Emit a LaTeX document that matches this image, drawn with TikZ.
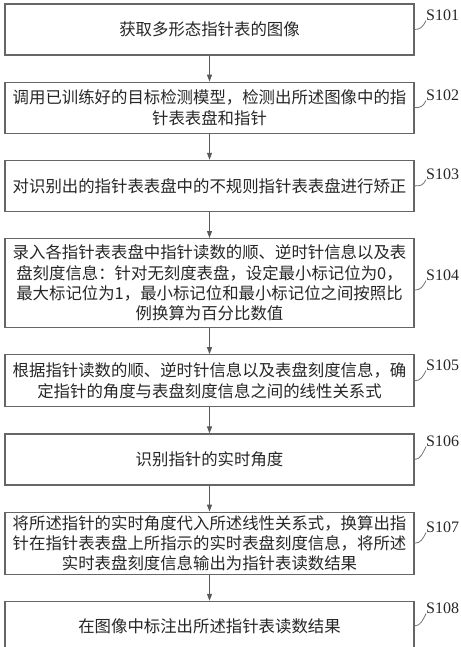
\documentclass[tikz,border=0pt]{standalone}
\usepackage{fontspec}
\setmainfont{Liberation Serif}
\newfontfamily\cjk{Noto Sans CJK SC}
\usetikzlibrary{positioning,arrows.meta}

\begin{document}
\begin{tikzpicture}
  	[x=1pt,y=1pt,node distance=26pt,
   	stepbox/.style={draw=black!60,line width=1.2pt,minimum width=409pt,minimum height=51pt,
   		inner xsep=4pt,inner ysep=2pt,align=center,text=black!85,
   		font=\cjk\fontsize{16.4}{20.3}\selectfont},
   	tag/.style={anchor=west,inner sep=0pt,text=black!85,font=\fontsize{16}{16}\selectfont},
	arr/.style={draw=black!65,line width=1pt,-{Triangle[length=7pt,width=5pt]}},
	hook/.style={draw=black!55,line width=0.8pt}]
  	\useasboundingbox (0,0) rectangle (460,-647);
	% steps
  	\node[stepbox] (b1) at (209.5,-29.5) {获取多形态指针表的图像};
  	\node[stepbox,below=of b1] (b2) {调用已训练好的目标检测模型，检测出所述图像中的指\\针表表盘和指针};
  	\node[stepbox,below=of b2] (b3) {对识别出的指针表表盘中的不规则指针表表盘进行矫正};
  	\node[stepbox,below=of b3,minimum height=89pt] (b4) {录入各指针表表盘中指针读数的顺、逆时针信息以及表\\盘刻度信息：针对无刻度表盘，设定最小标记位为0，\\最大标记位为1，最小标记位和最小标记位之间按照比\\例换算为百分比数值};
  	\node[stepbox,below=of b4,minimum height=52pt] (b5) {根据指针读数的顺、逆时针信息以及表盘刻度信息，确\\定指针的角度与表盘刻度信息之间的线性关系式};
  	\node[stepbox,below=of b5] (b6) {识别指针的实时角度};
  	\node[stepbox,below=of b6,minimum height=62pt] (b7) {将所述指针的实时角度代入所述线性关系式，换算出指\\针在指针表表盘上所指示的实时表盘刻度信息，将所述\\实时表盘刻度信息输出为指针表读数结果};
  	\node[stepbox,below=of b7,minimum height=49pt] (b8) {在图像中标注出所述指针表读数结果};
	% step numbers
  	\node[tag] (s1) at (426,-15) {S101};
  	\node[tag] (s2) at (426,-95) {S102};
  	\node[tag] (s3) at (426,-174) {S103};
  	\node[tag] (s4) at (426,-275) {S104};
  	\node[tag] (s5) at (426,-365) {S105};
  	\node[tag] (s6) at (426,-441) {S106};
  	\node[tag] (s7) at (426,-527) {S107};
  	\node[tag] (s8) at (426,-608) {S108};
  	\foreach \i in {1,2,3,5,6,7,8}
  		\draw[hook] (b\i.east) .. controls +(6,0) and +(-3,-6) .. (s\i.south west);
  	\draw[hook] ([yshift=-7]b4.east) .. controls +(6,0) and +(-3,-6) .. (s4.south west);
	% arrows
  	\foreach \i/\j in {1/2,2/3,3/4,4/5,5/6,6/7,7/8}
  		\draw[arr] (b\i) -- (b\j);
\end{tikzpicture}
\end{document}
